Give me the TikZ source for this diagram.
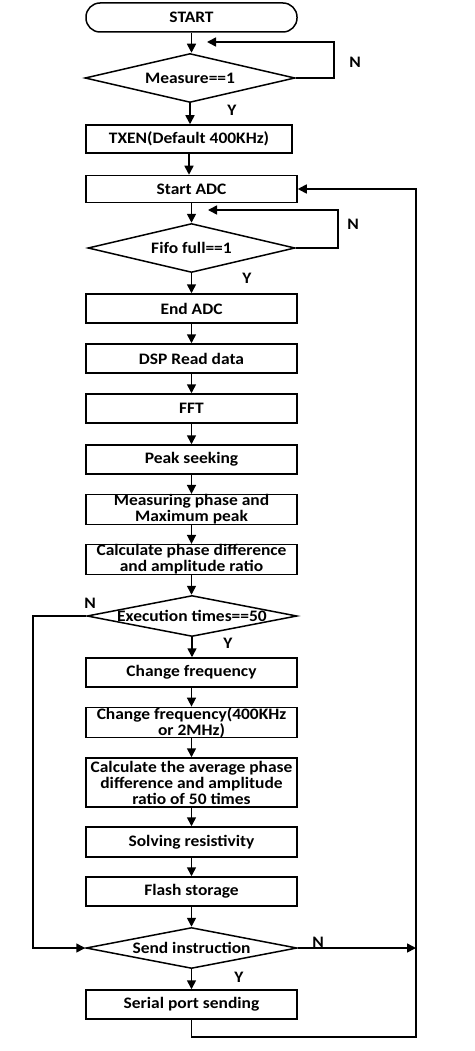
\documentclass[tikz,border=0pt]{standalone}
\usepackage{fontspec}
\setmainfont[FakeStretch=1.09]{Carlito}
\usetikzlibrary{shapes.geometric,arrows.meta}
\begin{document}
\begin{tikzpicture}[x=1pt,y=-1pt,
  every node/.style={font=\bfseries\fontsize{16}{16}\selectfont},
  box/.style={draw,line width=1.5pt,minimum width=211pt,minimum height=29pt,inner sep=0pt,align=center},
  term/.style={box,rounded corners=14pt},
  dec/.style={draw,shape=diamond,line width=1.5pt,minimum width=210pt,minimum height=49pt,inner sep=0pt,aspect=4.3},
  arr/.style={line width=1.6pt,-{Triangle[length=9pt,width=9pt]}},
  lab/.style={inner sep=0pt}]
\useasboundingbox (0,0) rectangle (474,1051);
\node[term] (start) at (191.5,17.5) {START};
\node[dec] (m) at (190,78) {\makebox[0pt]{Measure==1}};
\node[box,minimum width=206pt,minimum height=28pt] (txen) at (189,139) {TXEN(Default 400KHz)};
\node[box,minimum height=27pt] (sadc) at (191.5,189) {Start ADC};
\node[dec,minimum width=207pt] (fifo) at (191.5,248) {\makebox[0pt]{Fifo full==1}};
\node[box] (eadc) at (191.5,308.5) {End ADC};
\node[box] (dsp) at (191.5,358.5) {DSP Read data};
\node[box] (fft) at (191.5,408.5) {FFT};
\node[box] (peak) at (191.5,459.5) {Peak seeking};
\node[box] (meas) at (191.5,509.5) {Measuring phase and\\Maximum peak};
\node[box] (calc) at (191.5,559.5) {Calculate phase difference\\and amplitude ratio};
\node[dec,minimum height=41pt] (exe) at (192,616) {\makebox[0pt]{Execution times==50}};
\node[box] (cf) at (191.5,672.5) {Change frequency};
\node[box] (cf2) at (191.5,722.5) {Change frequency(400KHz\\or 2MHz)};
\node[box,minimum height=49pt] (avg) at (191.5,782.5) {Calculate the average phase\\difference and amplitude\\ratio of 50 times};
\node[box,minimum height=30pt] (solve) at (191.5,842) {Solving resistivity};
\node[box] (flash) at (191.5,891.5) {Flash storage};
\node[dec,minimum height=41pt,minimum width=211pt] (send) at (191.5,948) {\makebox[0pt]{Send instruction}};
\node[box] (serial) at (191.5,1004.5) {Serial port sending};
% labels
\node[lab] (n1) at (355,62) {N};
\node[lab] (y1) at (232,110) {Y};
\node[lab] (n2) at (353,224) {N};
\node[lab] (y2) at (247,278) {Y};
\node[lab] (n3) at (90,603) {N};
\node[lab] (y3) at (228,643) {Y};
\node[lab] (n4) at (318,942) {N};
\node[lab] (y4) at (239,977) {Y};
% coordinates
\coordinate (mloop) at (334,42);
\coordinate (min) at (207,42);
\coordinate (floop) at (338,210);
\coordinate (fin) at (208,210);
\coordinate (lft) at (33,616);
\coordinate (rt) at (416,948);
\coordinate (bot) at (416,1037);
% straight arrows
\foreach \a/\b in {start/m,m/txen,txen/sadc,sadc/fifo,fifo/eadc,eadc/dsp,dsp/fft,fft/peak,peak/meas,meas/calc,calc/exe,exe/cf,cf/cf2,cf2/avg,avg/solve,solve/flash,flash/send,send/serial}
  \draw[arr] (\a.south) -- (\a.south |- \b.north);
% loops
\draw[arr] (m.east) -| (mloop) -- (min);
\draw[arr] (fifo.east) -| (floop) -- (fin);
\draw[arr] (exe.west) -- (lft) |- (send.west);
\draw[arr] (send.east) -- (rt);
\draw[arr] (serial.south) |- (bot) |- (sadc.east);
\end{tikzpicture}
\end{document}
